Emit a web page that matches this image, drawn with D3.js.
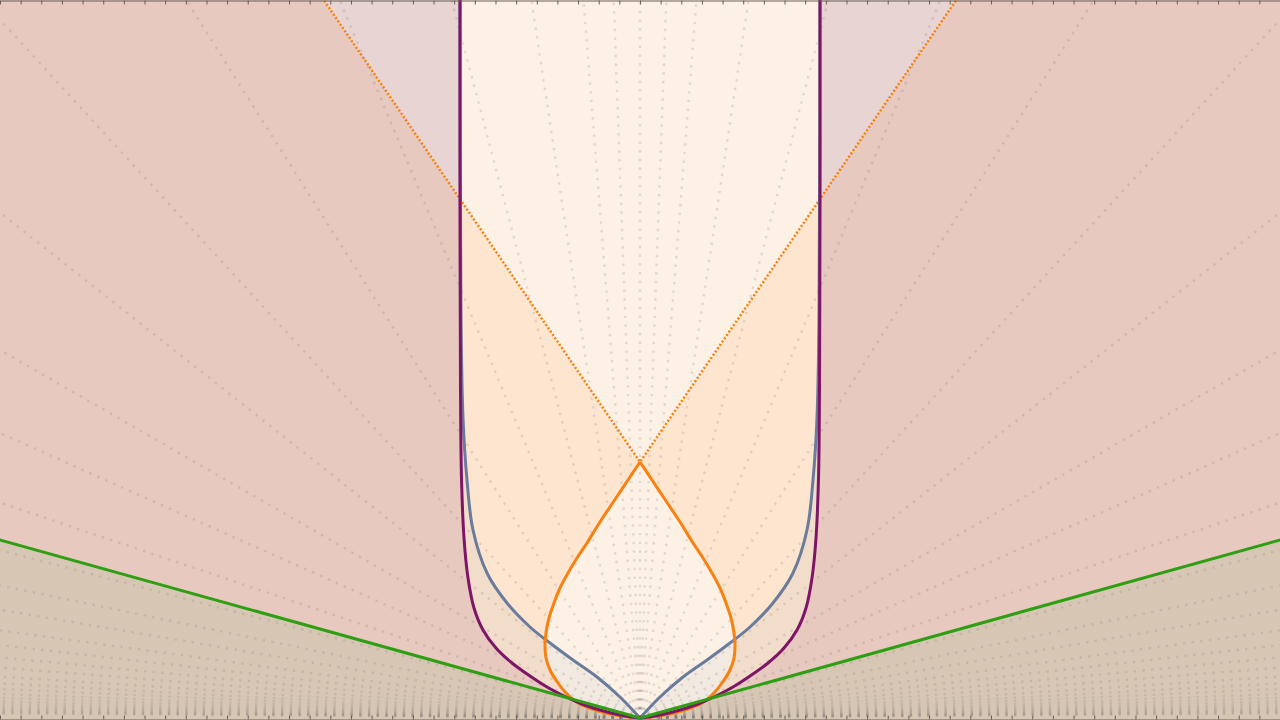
<!DOCTYPE html>
<html><head><meta charset="utf-8">
<script src="https://cdn.jsdelivr.net/npm/d3@7"></script>
<style>html,body{margin:0;padding:0;background:#fdf1e6;overflow:hidden}</style>
</head><body>
<svg id="c" width="1280" height="720"></svg>
<script>
// ---- data (units: one axis tick = 1) ----
const purpleHalf = [[0,0],[0.969,0.145],[1.938,0.388],[2.809,0.678],[3.681,1.066],[4.505,1.502],[5.328,2.034],[6.200,2.664],[6.975,3.391],[7.605,4.263],[8.041,5.328],[8.331,6.781],[8.525,8.719],[8.646,11.625],[8.695,15.985],[8.719,24.219],[8.719,35.84]];
const blueHalf = [[0,0],[0.969,1.017],[2.083,1.986],[3.245,2.809],[4.359,3.633],[5.328,4.408],[6.442,5.570],[7.411,7.023],[8.089,9.106],[8.380,11.528],[8.573,14.531],[8.670,19.375],[8.719,35.84]];
const orangeHalf = [[0,12.400],[0.581,11.528],[1.163,10.656],[1.938,9.494],[2.567,8.477],[3.052,7.750],[3.488,7.023],[3.875,6.297],[4.166,5.570],[4.408,4.844],[4.553,4.117],[4.602,3.488],[4.553,2.906],[4.359,2.325],[3.972,1.695],[3.584,1.211],[3.003,0.727],[2.180,0.388],[1.211,0.145],[0,0]];
const orangeAsym = [[0,12.40],[16.5,36.5]];
const greenLine = [[0,0],[32,8.9]];
const rayAngles = [90,87.9,85.5,81.4,75.3,67.3,57.7,47.5,38.3,29.9,24.0,18.6,14.7,11.7,9.6,7.8,6.5,5.4,4.5,3.7,3.1,2.6,2.15,1.8,1.5,1.25,1.05,0.87,0.72,0.6,0.5,0.4];
const xTicks = d3.range(-31, 32, 1);

// ---- setup ----
const W = 1280, H = 720;
const svg = d3.select('#c');
const x = d3.scaleLinear().domain([-31, 31]).range([0, W]);
const y = d3.scaleLinear().domain([0, 718 / (W / 62)]).range([718, 0]);

const lineC = d3.line().x(d => x(d[0])).y(d => y(d[1])).curve(d3.curveCatmullRom.alpha(0.5));
const lineL = d3.line().x(d => x(d[0])).y(d => y(d[1]));
const mirror = pts => pts.map(p => [-p[0], p[1]]);
const join = (a, b) => a + b.replace(/^M/, 'L');
const rectPath = `M${x(-40)},${y(-5)}H${x(40)}V${y(45)}H${x(-40)}Z`;

// regions
const purpleRegion = lineC(purpleHalf.slice().reverse().concat(mirror(purpleHalf).slice(1))) + 'Z';
const blueRegion = join(lineC(blueHalf.slice().reverse()), lineC(mirror(blueHalf))) + 'Z';
const tearRegion = join(lineC(orangeHalf), lineC(mirror(orangeHalf).reverse())) + 'Z';
const vRegion = lineL([orangeAsym[1], orangeAsym[0], [-orangeAsym[1][0], orangeAsym[1][1]]]) + 'Z';
const greenRegion = lineL([[0,0], greenLine[1], [greenLine[1][0], -5], [-greenLine[1][0], -5], [-greenLine[1][0], greenLine[1][1]]]) + 'Z';

svg.append('rect').attr('width', W).attr('height', H).attr('fill', '#fdf1e6');

const fills = svg.append('g');
fills.append('path').attr('d', rectPath + tearRegion + vRegion).attr('fill-rule', 'evenodd')
  .attr('fill', '#ff7f0e').attr('fill-opacity', 0.1);
fills.append('path').attr('d', rectPath + blueRegion).attr('fill-rule', 'evenodd')
  .attr('fill', '#6a7b9b').attr('fill-opacity', 0.07);
fills.append('path').attr('d', rectPath + purpleRegion).attr('fill-rule', 'evenodd')
  .attr('fill', '#8a1a66').attr('fill-opacity', 0.1);
fills.append('path').attr('d', greenRegion)
  .attr('fill', '#2ca02c').attr('fill-opacity', 0.08);

// rays
const rays = svg.append('g');
const allRays = rayAngles.concat(rayAngles.filter(a => a !== 90).map(a => 180 - a));
rays.selectAll('line').data(allRays).join('line')
  .attr('x1', x(0)).attr('y1', y(0))
  .attr('x2', a => x(80 * Math.cos(a * Math.PI / 180)))
  .attr('y2', a => y(80 * Math.sin(a * Math.PI / 180)))
  .attr('stroke', 'rgb(120,120,120)').attr('stroke-opacity', 0.2)
  .attr('stroke-width', 2.4).attr('stroke-dasharray', '2.4,6.3');

// orange dotted asymptotes
svg.append('path').attr('d', lineL([[-orangeAsym[1][0], orangeAsym[1][1]], orangeAsym[0], orangeAsym[1]]))
  .attr('fill', 'none').attr('stroke', '#f5820f').attr('stroke-width', 2.5).attr('stroke-dasharray', '2,2');

// curves
const curves = svg.append('g').attr('fill', 'none').attr('stroke-width', 3).attr('stroke-linejoin', 'round');
[[blueHalf, '#6a7b9b'], [orangeHalf, '#f8810f'], [purpleHalf, '#7e1566']].forEach(([pts, col]) => {
  curves.append('path').attr('d', lineC(pts)).attr('stroke', col);
  curves.append('path').attr('d', lineC(mirror(pts))).attr('stroke', col);
});
curves.append('path').attr('d', lineL([[-greenLine[1][0], greenLine[1][1]], greenLine[0], greenLine[1]]))
  .attr('stroke', '#2e9e12');

// axes (ticks only)
const axTop = d3.axisTop(x).tickValues(xTicks).tickSizeInner(-4).tickSizeOuter(0).tickFormat('');
const axBot = d3.axisBottom(x).tickValues(xTicks).tickSizeInner(-4).tickSizeOuter(0).tickFormat('');
svg.append('g').attr('transform', 'translate(0,0.5)').call(axTop)
  .call(g => g.selectAll('path,line').attr('stroke', '#6a5f58'));
svg.append('g').attr('transform', 'translate(0,719.5)').call(axBot)
  .call(g => g.selectAll('path,line').attr('stroke', '#6a5f58'));
</script>
</body></html>
